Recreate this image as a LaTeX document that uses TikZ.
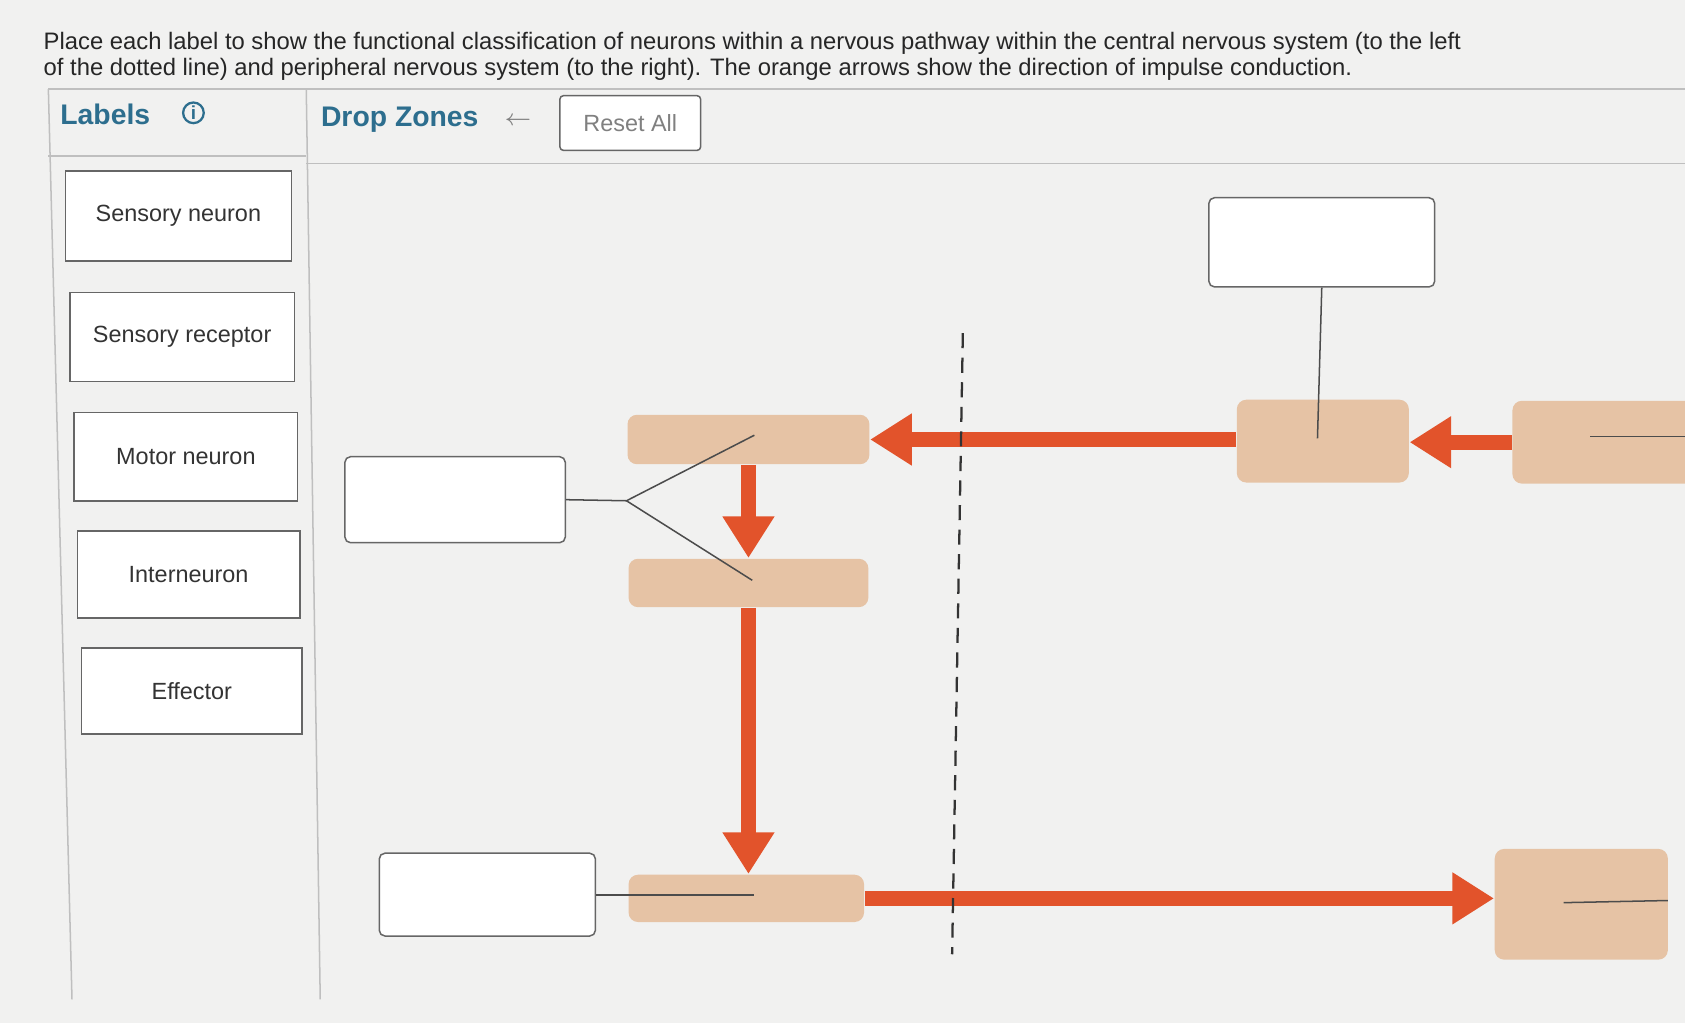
\documentclass[tikz,border=0pt]{standalone}
\usepackage{fontspec}
\setmainfont{Liberation Sans}
\usetikzlibrary{arrows.meta}
\definecolor{org}{HTML}{E2532B}
\definecolor{tan}{HTML}{E6C3A5}
\definecolor{teal}{HTML}{2D6E8E}
\definecolor{bg}{HTML}{F1F1F0}
\begin{document}
\begin{tikzpicture}[x=0.01cm,y=-0.01cm,
 lab/.style={draw=gray!80!black,line width=0.4pt,fill=white,align=center,font=\fontsize{6.2}{7}\selectfont,text=black!80,inner sep=0pt},
 zone/.style={draw=gray!80!black,line width=0.4pt,fill=white,inner sep=0pt},
 tanbox/.style={fill=tan,rounded corners=2.5pt,inner sep=0pt},
 oarrow/.style={draw=org,line width=4pt,-{Triangle[length=11pt,width=13pt]}},
 lead/.style={draw=black!70,line width=0.4pt}]
\fill[bg] (0,0) rectangle (1568,952);
\useasboundingbox (0,0) rectangle (1568,952);
\node[anchor=north west,align=left,font=\fontsize{6.3}{7.1}\selectfont,text=black!85,inner sep=0pt] (title) at (40,29) {Place each label to show the functional classification of neurons within a nervous pathway within the central nervous system (to the left\\of the dotted line) and peripheral nervous system (to the right). The orange arrows show the direction of impulse conduction.};
\draw[gray!50] (45,83) -- (1568,83);
\draw[gray!50] (45,83) -- (67,930);
\draw[gray!50] (285,83) -- (298,930);
\draw[gray!50] (45,145) -- (285,145);
\draw[gray!50] (285,152) -- (1568,152);
\node[font=\bfseries\fontsize{7.5}{9}\selectfont,text=teal] (labels) at (98,106) {Labels};
\node[draw=teal,circle,inner sep=0.6pt,font=\bfseries\fontsize{5}{6}\selectfont,text=teal,line width=0.6pt] (info) at (180,105) {i};
\node[font=\bfseries\fontsize{7.5}{9}\selectfont,text=teal] (dz) at (372,111) {Drop Zones};
\node[font=\fontsize{6}{7}\selectfont,text=gray] (undo) at (482,113) {$\leftarrow$};
\node[lab,minimum width=1.31cm,minimum height=0.51cm,rounded corners=1pt,text=gray] (reset) at (586.5,114.5) {Reset All};
\node[lab,minimum width=2.10cm,minimum height=0.84cm] (l1) at (166,201) {Sensory neuron};
\node[lab,minimum width=2.09cm,minimum height=0.83cm] (l2) at (169.5,313.5) {Sensory receptor};
\node[lab,minimum width=2.08cm,minimum height=0.82cm] (l3) at (173,425) {Motor neuron};
\node[lab,minimum width=2.07cm,minimum height=0.81cm] (l4) at (175.5,534.5) {Interneuron};
\node[lab,minimum width=2.05cm,minimum height=0.80cm] (l5) at (178.5,643) {Effector};
\node[zone,minimum width=2.10cm,minimum height=0.83cm,rounded corners=1.5pt] (z1) at (1230,225.5) {};
\node[zone,minimum width=2.05cm,minimum height=0.80cm,rounded corners=1.5pt] (z2) at (423.5,465) {};
\node[zone,minimum width=2.01cm,minimum height=0.77cm,rounded corners=1.5pt] (z3) at (453.5,832.5) {};
\node[tanbox,minimum width=2.25cm,minimum height=0.46cm] (t1) at (696.5,409) {};
\node[tanbox,minimum width=2.23cm,minimum height=0.45cm] (t2) at (696.5,542.5) {};
\node[tanbox,minimum width=2.19cm,minimum height=0.44cm] (t3) at (694.5,836) {};
\node[tanbox,minimum width=1.60cm,minimum height=0.77cm] (t4) at (1231,410.5) {};
\node[tanbox,minimum width=1.75cm,minimum height=0.77cm] (t5) at (1495,411.5) {};
\node[tanbox,minimum width=1.61cm,minimum height=1.03cm] (t6) at (1471.5,841.5) {};
\draw[oarrow] (t4.west |- t1.east) -- (t1.east);
\draw[oarrow] (t5.west) -- (t4.east |- t5.west);
\draw[oarrow] (t1.south) -- (t1.south |- t2.north);
\draw[oarrow] (t2.south) -- (t2.south |- t3.north);
\draw[oarrow] (t3.east) -- (t6.west |- t3.east);
\coordinate (dtop) at (896,310);
\coordinate (dbot) at (886,888);
\draw[black!80,line width=0.6pt,dash pattern=on 4pt off 2.5pt] (dtop) -- (dbot);
\coordinate (c1) at (1226,408);
\draw[lead] (z1.south) -- (c1);
\coordinate (fork) at (583,466);
\coordinate (f1) at (702,405);
\coordinate (f2) at (700,540);
\draw[lead] (z2.east) -- (fork) -- (f1);
\draw[lead] (fork) -- (f2);
\coordinate (c3) at (702,833);
\draw[lead] (z3.east |- c3) -- (c3);
\coordinate (c5a) at (1480,406);
\draw[lead] (c5a) -- (t5.east |- c5a);
\coordinate (c6a) at (1455,840);
\coordinate (c6b) at (1552,838);
\draw[lead] (c6a) -- (c6b);
\end{tikzpicture}
\end{document}
